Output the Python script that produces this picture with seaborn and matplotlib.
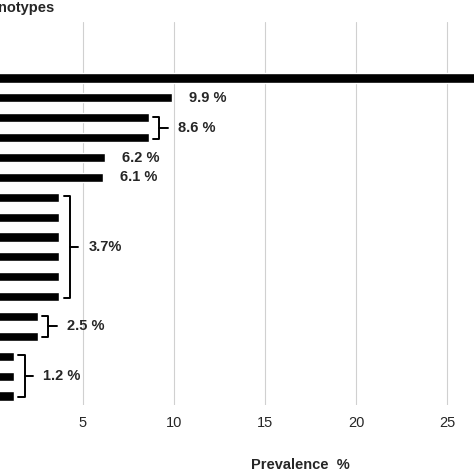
import matplotlib
matplotlib.use("Agg")
import matplotlib.pyplot as plt
import seaborn as sns
import pandas as pd

genotypes = [f"G{i}" for i in range(17)]
prevalence = [27, 9.9, 8.6, 8.6, 6.2, 6.1, 3.7, 3.7, 3.7, 3.7, 3.7, 3.7, 2.5, 2.5, 1.2, 1.2, 1.2]
single_labels = [(1, "9.9 %"), (4, "6.2 %"), (5, "6.1 %")]
groups = [(2, 3, "8.6 %"), (6, 11, "3.7%"), (12, 13, "2.5 %"), (14, 16, "1.2 %")]
xticks = [5, 10, 15, 20, 25]

sns.set_theme(style="white")
plt.rcParams['font.family'] = ['Liberation Sans', 'DejaVu Sans']
df = pd.DataFrame({"g": genotypes, "p": prevalence})

fig = plt.figure(figsize=(4.74, 4.74), dpi=100)
ax = fig.add_axes([-8/474, 69/474, 482/474, 383/474])
sns.barplot(data=df, y="g", x="p", orient="h", color="black", width=0.46, ax=ax, saturation=1)
ax.set_xlim(0, 482/18.2)
ax.set_ylim(16.45, -2.82)
ax.set_xticks(xticks)
ax.set_xticklabels([str(t) for t in xticks], fontsize=10.5)
ax.set_yticks([])
ax.set_ylabel(""); ax.set_xlabel("")
ax.grid(axis="x", color="#d0d0d0", lw=0.8)
ax.set_axisbelow(True)
for s in ax.spines.values():
    s.set_visible(False)
ax.tick_params(axis="x", length=0, pad=8)

for i, t in single_labels:
    ax.text(prevalence[i] + 0.95, i, t, va="center", fontsize=10.5, fontweight="bold")
for a, b, t in groups:
    xb = prevalence[a] + 0.6
    ax.plot([xb - 0.35, xb, xb, xb - 0.35], [a - 0.05, a - 0.05, b + 0.05, b + 0.05], color="black", lw=1.4)
    ax.plot([xb, xb + 0.45], [(a + b) / 2] * 2, color="black", lw=1.4)
    ax.text(xb + 1.0, (a + b) / 2, t, va="center", fontsize=10.5, fontweight="bold")

fig.text(-2/474, 1 - 8/474, "notypes", fontsize=10.5, fontweight="bold", va="center")
fig.text(300/474, 1 - 465/474, "Prevalence  %", fontsize=10.5, fontweight="bold", ha="center", va="center")
fig.savefig("out.png", dpi=100)
